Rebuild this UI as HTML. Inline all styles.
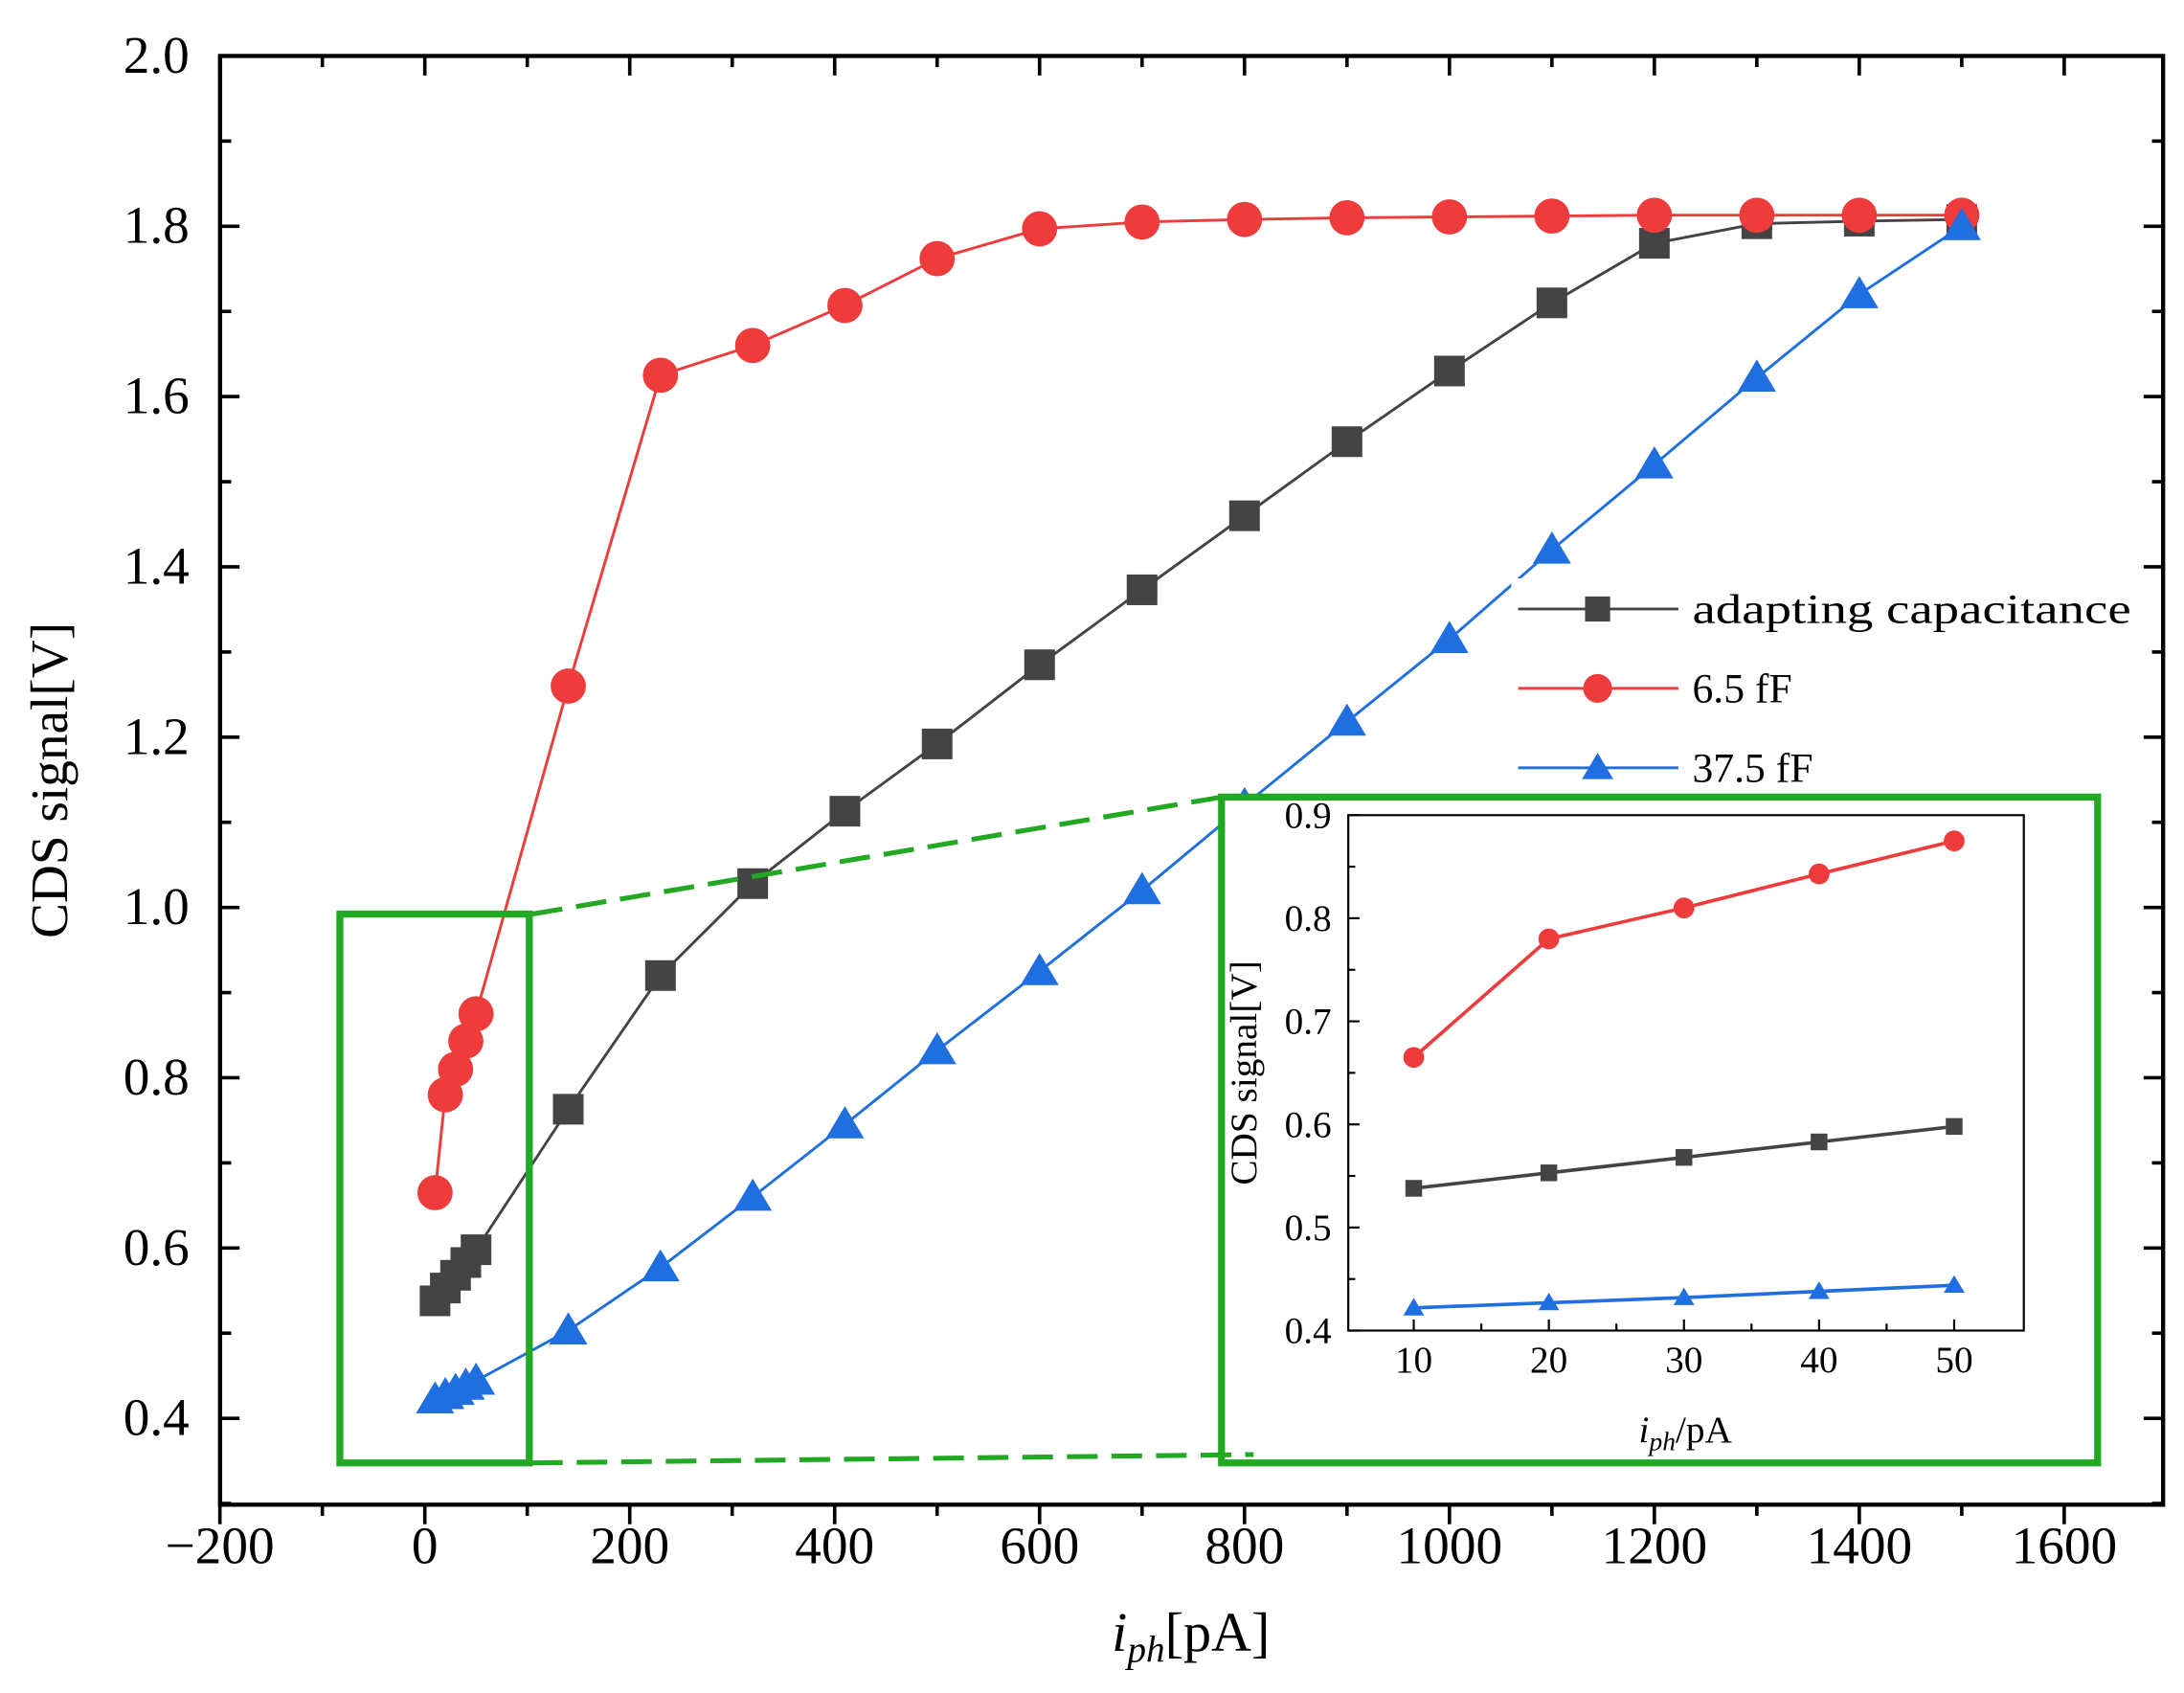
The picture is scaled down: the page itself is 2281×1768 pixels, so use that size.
<!DOCTYPE html>
<html><head><meta charset="utf-8"><style>html,body{margin:0;padding:0;background:#fff}svg{display:block}</style></head>
<body>
<svg id="s" width="2281" height="1768" viewBox="0 0 1568 1215" xmlns="http://www.w3.org/2000/svg" font-family="'Liberation Serif', serif">
<rect width="1568" height="1215" fill="#fff"/>
<g id="g"></g>
<text x="48" y="560" font-size="38" text-anchor="middle" transform="rotate(-90 48 560)">CDS signal[V]</text>
<text x="855" y="1185" font-size="40" text-anchor="middle"><tspan font-style="italic">i</tspan><tspan font-style="italic" font-size="27" dy="8">ph</tspan><tspan dy="-8">[pA]</tspan></text>
<text x="902" y="770" font-size="27" text-anchor="middle" transform="rotate(-90 902 770)">CDS signal[V]</text>
<text x="1210" y="1035" font-size="27" text-anchor="middle"><tspan font-style="italic">i</tspan><tspan font-style="italic" font-size="19" dy="6">ph</tspan><tspan dy="-6">/pA</tspan></text>
<g font-size="30">
<text x="1215" y="447" textLength="315" lengthAdjust="spacingAndGlyphs">adapting capacitance</text>
<text x="1215" y="504">6.5 fF</text>
<text x="1215" y="561">37.5 fF</text>
</g>
</svg>
<script>
const NS="http://www.w3.org/2000/svg",g=document.getElementById('g');
function el(t,a){const e=document.createElementNS(NS,t);for(const k in a)e.setAttribute(k,a[k]);g.appendChild(e);return e;}
function txt(x,y,s,size,anchor){const e=el('text',{x,y,'font-size':size,'text-anchor':anchor||'middle'});e.textContent=s;}
const X=v=>305+v*147.125/200, Y=v=>1018-(v-0.4)*122.25/0.2;
const xs=[10,20,30,40,50,140,230,320,410,500,600,700,800,900,1000,1100,1200,1300,1400,1500];
const red=[0.665,0.78,0.81,0.843,0.875,1.26,1.625,1.66,1.707,1.762,1.797,1.805,1.808,1.81,1.811,1.812,1.813,1.813,1.813,1.813];
const blk=[0.538,0.553,0.568,0.583,0.598,0.763,0.92,1.028,1.113,1.192,1.285,1.373,1.46,1.547,1.63,1.71,1.78,1.803,1.806,1.808];
const blu=[0.422,0.427,0.432,0.438,0.444,0.503,0.577,0.66,0.745,0.832,0.925,1.02,1.12,1.218,1.315,1.42,1.52,1.622,1.72,1.8];
function mk(type,x,y,s,c){
 if(type=='s')el('rect',{x:x-s,y:y-s,width:2*s,height:2*s,fill:c});
 else if(type=='c')el('circle',{cx:x,cy:y,r:s*1.15,fill:c});
 else el('polygon',{points:`${x},${y-s*1.2} ${x+s*1.25},${y+s*0.9} ${x-s*1.25},${y+s*0.9}`,fill:c});
}
function series(px,py,type,c,s,w){
 el('polyline',{points:px.map((v,i)=>v+','+py[i]).join(' '),fill:'none',stroke:c,'stroke-width':w});
 px.forEach((v,i)=>mk(type,v,py[i],s,c));
}
el('rect',{x:158,y:40,width:1395,height:1040,fill:'none',stroke:'#000','stroke-width':3});
for(let v=-200;v<=1600;v+=100){const x=X(v);if(x<157||x>1554)continue;const maj=v%200==0;
 el('line',{x1:x,y1:1080,x2:x,y2:1080+(maj?14:8),stroke:'#000','stroke-width':2.5});
 el('line',{x1:x,y1:40,x2:x,y2:40+(maj?14:8),stroke:'#000','stroke-width':2.5});
 if(maj)txt(x,1122,(v<0?'\u2212'+(-v):v),38);}
for(let k=3;k<=20;k++){const v=k/10,y=Y(v);if(y<39||y>1081)continue;const maj=k%2==0;
 el('line',{x1:158,y1:y,x2:158+(maj?14:8),y2:y,stroke:'#000','stroke-width':2.5});
 el('line',{x1:1553,y1:y,x2:1553-(maj?14:8),y2:y,stroke:'#000','stroke-width':2.5});
 if(maj)txt(136,y+12,v.toFixed(1),38,'end');}
series(xs.map(X),blk.map(Y),'s','#444',11,2);
series(xs.map(X),red.map(Y),'c','#ee3b3b',11,2);
series(xs.map(X),blu.map(Y),'t','#1f6fe0',11,2);
[[437,'s','#444'],[494,'c','#ee3b3b'],[551,'t','#1f6fe0']].forEach(([y,t,c])=>{el('rect',{x:1085,y:y-22,width:125,height:44,fill:'#fff'});el('line',{x1:1090,y1:y,x2:1205,y2:y,stroke:c,'stroke-width':2});mk(t,1147,y,9,c);});
el('rect',{x:877,y:572,width:629,height:478,fill:'#fff',stroke:'#22a822','stroke-width':5});
el('rect',{x:244,y:656,width:136,height:394,fill:'none',stroke:'#22a822','stroke-width':5});
el('line',{x1:382,y1:656,x2:877,y2:572,stroke:'#22a822','stroke-width':3.5,'stroke-dasharray':'22,10'});
el('line',{x1:382,y1:1050,x2:900,y2:1044,stroke:'#22a822','stroke-width':3.5,'stroke-dasharray':'22,10'});
const IX=v=>1015+(v-10)*9.7, IY=v=>955-(v-0.4)*740;
el('rect',{x:968,y:585,width:485,height:370,fill:'none',stroke:'#000','stroke-width':1.5});
for(let v=10;v<=50;v+=5){const x=IX(v),maj=v%10==0;el('line',{x1:x,y1:955,x2:x,y2:955-(maj?8:5),stroke:'#000','stroke-width':1.5});if(maj)txt(x,985,v,27);}
for(let k=8;k<=18;k++){const v=k/20,y=IY(v),maj=k%2==0;el('line',{x1:968,y1:y,x2:968+(maj?8:5),y2:y,stroke:'#000','stroke-width':1.5});if(maj)txt(956,y+9,v.toFixed(1),27,'end');}
const ix=[10,20,30,40,50].map(IX);
series(ix,blk.slice(0,5).map(IY),'s','#444',6,2.5);
series(ix,red.slice(0,5).map(IY),'c','#ee3b3b',6.5,2.5);
series(ix,blu.slice(0,5).map(IY),'t','#1f6fe0',6,2.5);
</script>
</body></html>
